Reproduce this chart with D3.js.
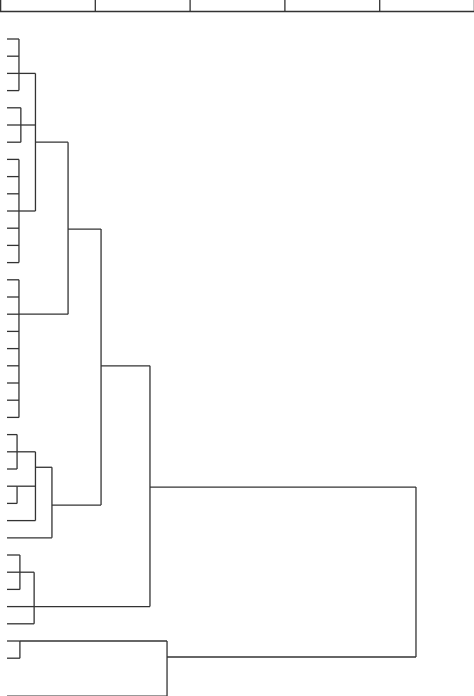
<!DOCTYPE html>
<html><head><meta charset="utf-8">
<script src="https://cdn.jsdelivr.net/npm/d3@7/dist/d3.min.js"></script>
<style>body{margin:0;background:#fff}svg{display:block}</style>
</head><body>
<script>
// leaf positions (row indices) and merge table
const leafIndices = d3.range(37).concat([38.2]);
const leafHeight = 0.37;
const axisTicks = [0, 5, 10, 15, 20, 25];
// merges: id, height, children (numbers = leaf indices, strings = merge ids), anchor row
const mergeIds     = ["A","B","C","ABC","D","E1","E2","E3","E4","ABCD","N5","F1","F","N6","G1","G","root"];
const mergeHeights = [1.0,1.1,1.0,1.87,1.0,0.9,0.9,1.87,2.74,3.59,5.33,1.05,1.8,7.91,1.05,8.81,21.94];
const mergeChildren = [
  [0,1,2,3],[4,5,6],[7,8,9,10,11,12,13],["A","B","C"],[14,15,16,17,18,19,20,21,22],
  [23,24,25],[26,27],["E1","E2",28],["E3",29],["ABC","D"],["ABCD","E4"],
  [30,31,32],["F1",33,34],["N5","F"],[35,36],["G1",38.2],["N6","G"]
];
const mergeAnchors = [2,5,10,6,16,24,26,24.9,27.1,11.05,19,31,33,26.05,35,35.93,0];

const W = 474, H = 696;
const svg = d3.select("body").append("svg").attr("width", W).attr("height", H);
const x = d3.scaleLinear().domain([0, 25]).range([0, W]);
const y = d3.scaleLinear().domain([0, 1]).range([39, 56.2]);

const nodes = {};
mergeIds.forEach((id, i) => nodes[id] = {h: mergeHeights[i], a: mergeAnchors[i], c: mergeChildren[i]});
const info = c => typeof c === "string" ? {h: nodes[c].h, a: nodes[c].a} : {h: leafHeight, a: c};

const g = svg.append("g").attr("fill", "none").attr("stroke", "#333").attr("stroke-width", 1.3);
mergeIds.forEach(id => {
  const n = nodes[id];
  const ch = n.c.map(info);
  const ys = ch.map(c => y(c.a));
  g.append("line").attr("x1", x(n.h)).attr("x2", x(n.h))
    .attr("y1", d3.min(ys)).attr("y2", d3.max(ys));
  ch.forEach(c => g.append("line").attr("x1", x(c.h)).attr("x2", x(n.h))
    .attr("y1", y(c.a)).attr("y2", y(c.a)));
});

// top axis
const ax = svg.append("g").attr("transform", "translate(0,11)")
  .call(d3.axisTop(x).tickValues(axisTicks).tickSize(11).tickFormat(""));
ax.selectAll("path,line").attr("stroke", "#333").attr("stroke-width", 1.3);
</script>
</body></html>
